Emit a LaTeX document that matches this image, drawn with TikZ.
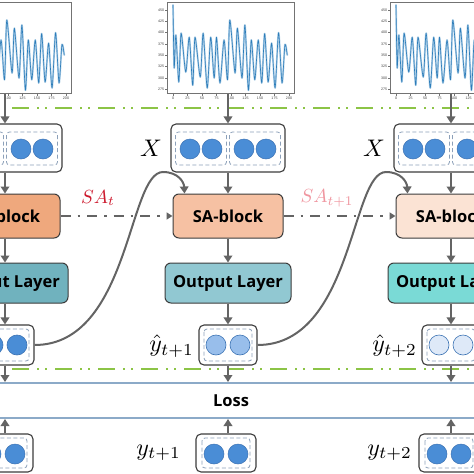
\documentclass[tikz,border=0pt]{standalone}
\usepackage{fontspec}
\usetikzlibrary{arrows.meta}
\newfontfamily\boxfont{Open Sans}
\newfontfamily\tickfont{Liberation Sans}
\definecolor{arrgray}{RGB}{100,100,100}
\definecolor{boxdraw}{RGB}{60,60,60}
\definecolor{dashblue}{RGB}{140,160,185}
\definecolor{circfill}{RGB}{74,141,214}
\definecolor{circdraw}{RGB}{60,115,180}
\definecolor{saL}{RGB}{239,168,125}
\definecolor{saM}{RGB}{246,193,163}
\definecolor{saR}{RGB}{251,227,212}
\definecolor{outL}{RGB}{112,178,190}
\definecolor{outM}{RGB}{145,200,210}
\definecolor{outR}{RGB}{122,218,214}
\definecolor{yhL}{RGB}{74,141,214}
\definecolor{yhM}{RGB}{152,190,235}
\definecolor{yhR}{RGB}{222,233,248}
\definecolor{greenl}{RGB}{140,196,70}
\definecolor{lossl}{RGB}{140,170,200}
\definecolor{sared}{RGB}{205,25,45}
\definecolor{sapink}{RGB}{240,150,160}
\definecolor{mplblue}{RGB}{45,125,185}
\definecolor{mpllight}{RGB}{175,208,232}
\newcommand\chartcore{%
    \draw[black!55, line width=0.6pt] (-10.3,267) rectangle (208.6,467.6);
    \foreach \v in {275,300,...,450}{
      \draw[black!55, line width=0.4pt] (-10.3,\v) -- (-13.5,\v);
    }
    \foreach \u in {0,25,...,200}{
      \draw[black!55, line width=0.4pt] (\u,267) -- (\u,261);
    }
    \draw[mpllight, line width=1.8pt, line join=round] plot[smooth, tension=0.45] coordinates {
      (0,462) (2,322) (5,395) (10,291) (14,399) (22,313) (28,390) (34,284) (38,390)
      (47,302) (52,399) (59,278) (65,390) (71,300) (75,390) (81,289) (88,384)
      (94,296) (98,428) (107,311) (111,410) (119,300) (124,417) (130,273) (135,384)
      (141,296) (147,384) (153,289) (158,398) (164,291) (170,377) (176,278) (182,400)
      (188,289) (193,374) (197,350)};
    \draw[mplblue, line width=0.6pt, line join=round] plot[smooth, tension=0.45] coordinates {
      (0,462) (2,322) (5,395) (10,291) (14,399) (22,313) (28,390) (34,284) (38,390)
      (47,302) (52,399) (59,278) (65,390) (71,300) (75,390) (81,289) (88,384)
      (94,296) (98,428) (107,311) (111,410) (119,300) (124,417) (130,273) (135,384)
      (141,296) (147,384) (153,289) (158,398) (164,291) (170,377) (176,278) (182,400)
      (188,289) (193,374) (197,350)};
}
\begin{document}
\begin{tikzpicture}[x=1pt,y=-1pt,
  arr/.style={draw=arrgray, line width=2.2pt, -{Triangle[length=7pt,width=8.5pt]}},
  curvearr/.style={draw=arrgray, line width=2pt, -{Triangle[length=7pt,width=8.5pt]}},
  saarr/.style={draw=arrgray, line width=2pt, dash pattern=on 10pt off 7pt on 2.5pt off 7pt, -{Triangle[length=6pt,width=7pt]}},
  greenline/.style={draw=greenl, line width=2.2pt, dash pattern=on 17pt off 8pt on 2pt off 6pt on 2pt off 8pt},
  lossline/.style={draw=lossl, line width=1.4pt},
  holder/.style={draw=boxdraw, line width=1.1pt, rounded corners=5pt, fill=white, inner sep=0pt},
  inner/.style={draw=dashblue, line width=0.8pt, dash pattern=on 4pt off 2.5pt, rounded corners=3pt},
  blockbox/.style={draw=boxdraw, line width=1pt, rounded corners=6pt, inner sep=0pt, font=\boxfont\bfseries\fontsize{16.5}{16.5}\selectfont},
  mlab/.style={inner sep=0pt, scale=2.4},
  tick/.style={font=\tickfont\fontsize{3.6}{4}\selectfont, text=black!75, inner sep=0.8pt},
  chartframe/.style={x=0.58pt, y=0.4533pt, yshift=-214pt}
]
\useasboundingbox (0,0) rectangle (474,474);
\clip (0,0) rectangle (474,474);
\fill[white] (0,0) rectangle (474,474);

% charts (same series repeated; labels only where inside the picture)
\begin{scope}[xshift=-50pt, chartframe]
  \chartcore
  \foreach \u in {100,125,...,200}{\node[tick, anchor=north] at (\u,261) {\u};}
\end{scope}
\begin{scope}[xshift=173pt, chartframe]
  \chartcore
  \foreach \v in {275,300,...,450}{\node[tick, anchor=east] at (-13.5,\v) {\v};}
  \foreach \u in {0,25,...,200}{\node[tick, anchor=north] at (\u,261) {\u};}
\end{scope}
\begin{scope}[xshift=396pt, chartframe]
  \chartcore
  \foreach \v in {275,300,...,450}{\node[tick, anchor=east] at (-13.5,\v) {\v};}
  \foreach \u in {0,25,...,125}{\node[tick, anchor=north] at (\u,261) {\u};}
\end{scope}

% green separators and loss band
\draw[greenline] (12,108) -- (474,108);
\draw[greenline] (12,369) -- (474,369);
\draw[lossline] (0,383) -- (474,383);
\draw[lossline] (0,418) -- (474,418);
\node[font=\boxfont\bfseries\fontsize{16.5}{16.5}\selectfont, inner sep=0pt] (loss) at (231,401) {Loss};

% columns
\foreach \c/\n/\saf/\outf/\yhf in {5/L/saL/outL/yhL, 228/M/saM/outM/yhM, 451/R/saR/outR/yhR}{
  \coordinate (src\n) at (\c,94);
  \node[holder, minimum width=114pt, minimum height=48pt] (in\n) at (\c,148) {};
  \foreach \dx in {-27,27}{
    \draw[inner] (\c+\dx-25.5,132) rectangle (\c+\dx+25.5,165);
    \foreach \ex in {-11,11}{
      \draw[fill=circfill, draw=circdraw, line width=0.5pt] (\c+\dx+\ex,149) circle (10);
    }
  }
  \draw[arr] (src\n) -- (in\n.north);
  \node[blockbox, fill=\saf, minimum width=110pt, minimum height=44pt] (sa\n) at (\c,216) {SA-block};
  \draw[arr] (in\n) -- (sa\n);
  \node[blockbox, fill=\outf, minimum width=126pt, minimum height=40pt] (out\n) at (\c,283) {Output Layer};
  \draw[arr] (sa\n) -- (out\n);
  \node[holder, minimum width=58pt, minimum height=40pt] (yh\n) at (\c,345) {};
  \draw[inner] (\c-24,329) rectangle (\c+24,361);
  \foreach \ex in {-12,12}{
    \draw[fill=\yhf, draw=circdraw, line width=0.6pt] (\c+\ex,345) circle (10);
  }
  \draw[arr] (out\n) -- (yh\n);
  \coordinate (lt\n) at (\c,382);
  \draw[arr] (yh\n) -- (lt\n);
  \node[holder, minimum width=60pt, minimum height=38pt] (yt\n) at (\c-2,453) {};
  \draw[inner] (\c-26,438) rectangle (\c+22,468);
  \foreach \ex in {-14,10}{
    \draw[fill=circfill, draw=circdraw, line width=0.5pt] (\c+\ex,454) circle (10);
  }
  \coordinate (lb\n) at (\c,419);
  \draw[arr] (yt\n.north -| lb\n) -- (lb\n);
}

% labels
\node[mlab, anchor=east] (xM) at ([xshift=-8pt]inM.west) {$X$};
\node[mlab, anchor=east] (xR) at ([xshift=-8pt]inR.west) {$X$};
\node[mlab, anchor=east] (yhlM) at ([xshift=-4pt,yshift=-1pt]yhM.west) {$\hat{y}_{t+1}$};
\node[mlab, anchor=east] (yhlR) at ([xshift=-4pt,yshift=-1pt]yhR.west) {$\hat{y}_{t+2}$};
\node[mlab, anchor=east] (ytlM) at ([xshift=-14pt]ytM.west) {$y_{t+1}$};
\node[mlab, anchor=east] (ytlR) at ([xshift=-6pt]ytR.west) {$y_{t+2}$};
\node[inner sep=0pt, text=sared, scale=1.9] (sat) at (98,198) {$SA_t$};
\node[inner sep=0pt, text=sapink, scale=1.9] (sat1) at (327,198) {$SA_{t+1}$};

% state passing
\draw[saarr] (saL.east) -- (saM.west);
\draw[saarr] (saM.east) -- (saR.west);
\draw[curvearr] (yhL.east) .. controls (130,345) and (128,172) .. (163,172)
   .. controls (178,172) and (184,182) .. ([xshift=12pt]saM.north west);
\draw[curvearr] (yhM.east) .. controls (353,345) and (351,172) .. (386,172)
   .. controls (401,172) and (407,182) .. ([xshift=12pt]saR.north west);
\end{tikzpicture}
\end{document}
